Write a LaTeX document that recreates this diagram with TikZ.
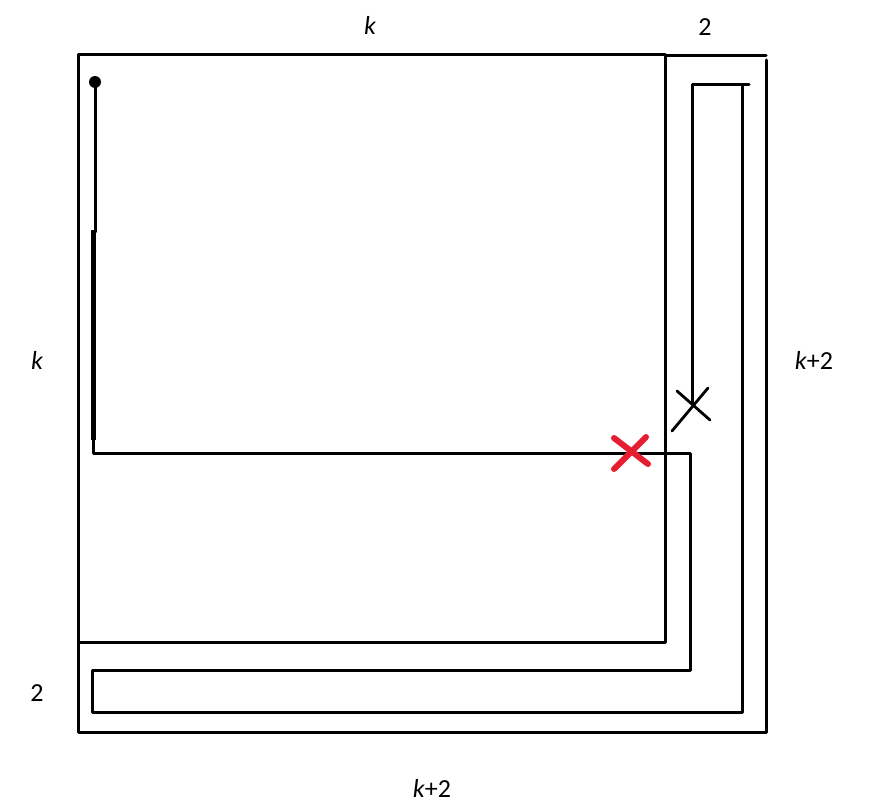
\documentclass[tikz,border=0pt]{standalone}
\usepackage{fontspec}
\setmainfont{Carlito}
\begin{document}
\begin{tikzpicture}[x=1pt,y=-1pt,
  ln/.style={line width=3pt,line cap=round,line join=round},
  lbl/.style={font=\fontsize{26}{28}\selectfont,inner sep=0pt}]
\useasboundingbox (0,0) rectangle (873,808);
% k square
\draw[ln] (78,55) rectangle (665,642);
% outer square
\draw[ln] (665,56) -- (766,56);
\draw[ln] (766,60) -- (766,732) -- (78,732) -- (78,642);
% path
\fill (95,82) circle (6);
\draw[ln] (95,82) -- (95,232);
\draw[line width=5pt] (93,230) -- (93,440);
\draw[ln] (93,440) -- (93,453) -- (690,453) -- (690,670) -- (92,670) -- (92,712) -- (742,712) -- (742,85);
\draw[ln] (749,85) -- (692,85) -- (692,403);
% black cross
\draw[ln,line width=2.8pt] (677,391) -- (710,420);
\draw[ln,line width=2.8pt] (708,388) -- (672,431);
% red cross
\definecolor{crossred}{RGB}{230,30,50}
\draw[crossred,line width=6pt,line cap=round] (614,438) -- (648,464);
\draw[crossred,line width=6pt,line cap=round] (646,437) -- (614,469);
% labels
\node[lbl] (top) at (370,25) {\itshape k};
\node[lbl] (toptwo) at (705,27) {2};
\node[lbl] (left) at (37,360) {\itshape k};
\node[lbl] (right) at (814,360) {\textit{k}+2};
\node[lbl] (lefttwo) at (37,693) {2};
\node[lbl] (bottom) at (432,788) {\textit{k}+2};
\end{tikzpicture}
\end{document}
